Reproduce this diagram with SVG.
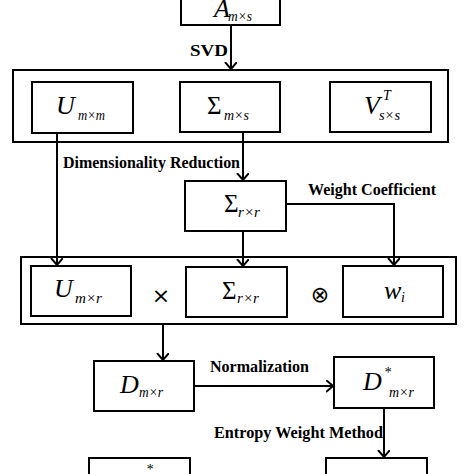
<svg xmlns="http://www.w3.org/2000/svg" width="474" height="474" viewBox="0 0 474 474">
<defs>
<style>
.box{fill:#fff;stroke:#000;stroke-width:2}
.frame{fill:none;stroke:#000;stroke-width:2}
.ln{fill:none;stroke:#000;stroke-width:2}
.m{font-family:"Liberation Serif",serif;font-style:italic;font-size:26px}
.g{font-family:"Liberation Serif",serif;font-style:normal;font-size:25px}
.s{font-family:"Liberation Serif",serif;font-style:italic;font-size:14px}
.lbl{font-family:"Liberation Serif",serif;font-weight:bold;font-size:16px}
.op{font-family:"DejaVu Sans",sans-serif;font-size:22px}
</style>
<marker id="ah" markerUnits="userSpaceOnUse" markerWidth="14" markerHeight="14" refX="7" refY="6" orient="auto" viewBox="0 0 14 14">
<path d="M0,0 L7,6 L0,12" fill="none" stroke="#000" stroke-width="2"/>
</marker>
</defs>
<rect width="474" height="474" fill="#fff"/>
<g id="connectors">
<line class="ln" x1="231" y1="25" x2="231" y2="69" marker-end="url(#ah)"/>
<line class="ln" x1="57" y1="133" x2="57" y2="265" marker-end="url(#ah)"/>
<line class="ln" x1="243" y1="132" x2="243" y2="180" marker-end="url(#ah)"/>
<line class="ln" x1="243" y1="231" x2="243" y2="266" marker-end="url(#ah)"/>
<polyline class="ln" points="286,204 394,204 394,265" marker-end="url(#ah)"/>
<line class="ln" x1="163" y1="324" x2="163" y2="360" marker-end="url(#ah)"/>
<line class="ln" x1="194" y1="386" x2="333" y2="386" marker-end="url(#ah)"/>
<line class="ln" x1="384" y1="408" x2="384" y2="457" marker-end="url(#ah)"/>
<text class="lbl" x="190" y="56" font-size="18" textLength="38" lengthAdjust="spacingAndGlyphs">SVD</text>
<text class="lbl" x="63" y="168" font-size="15" textLength="177" lengthAdjust="spacingAndGlyphs">Dimensionality Reduction</text>
<text class="lbl" x="308" y="195" textLength="128" lengthAdjust="spacingAndGlyphs">Weight Coefficient</text>
<text class="lbl" x="210" y="372" textLength="99" lengthAdjust="spacingAndGlyphs">Normalization</text>
<text class="lbl" x="214" y="438" textLength="169" lengthAdjust="spacingAndGlyphs">Entropy Weight Method</text>
</g>
<g id="node-A">
<rect class="box" x="181" y="-10" width="99" height="35"/>
<text class="m" x="214" y="17" font-size="20">A</text><text class="s" x="228" y="21" font-size="13" textLength="24" lengthAdjust="spacingAndGlyphs">m×s</text>
</g>
<g id="svd-frame">
<rect class="frame" x="13" y="70" width="435" height="72"/>
</g>
<g id="node-U">
<rect class="box" x="32" y="82" width="101" height="51"/>
<text class="m" x="56" y="114">U</text><text class="s" x="78" y="120" textLength="27" lengthAdjust="spacingAndGlyphs">m×m</text>
</g>
<g id="node-S">
<rect class="box" x="180" y="82" width="100" height="50"/>
<text class="g" x="207" y="114">Σ</text><text class="s" x="224" y="120" textLength="25" lengthAdjust="spacingAndGlyphs">m×s</text>
</g>
<g id="node-V">
<rect class="box" x="330" y="82" width="101" height="50"/>
<text class="m" x="364" y="114">V</text><text class="s" x="383" y="100">T</text><text class="s" x="379" y="120" textLength="21" lengthAdjust="spacingAndGlyphs">s×s</text>
</g>
<g id="node-Srr">
<rect class="box" x="185" y="181" width="101" height="50"/>
<text class="g" x="224" y="212" font-size="22">Σ</text><text class="s" x="238" y="217" textLength="22" lengthAdjust="spacingAndGlyphs">r×r</text>
</g>
<g id="product-frame">
<rect class="frame" x="21" y="257" width="435" height="67"/>
<text class="op" x="161" y="303" text-anchor="middle" font-family="Liberation Sans" font-size="30">×</text>
<text class="op" x="320" y="302" text-anchor="middle">⊗</text>
</g>
<g id="node-Umr">
<rect class="box" x="31" y="266" width="100" height="50"/>
<text class="m" x="54" y="297">U</text><text class="s" x="75" y="303" textLength="27" lengthAdjust="spacingAndGlyphs">m×r</text>
</g>
<g id="node-Srr2">
<rect class="box" x="186" y="267" width="101" height="50"/>
<text class="g" x="222" y="299" font-size="22">Σ</text><text class="s" x="237" y="303" textLength="22" lengthAdjust="spacingAndGlyphs">r×r</text>
</g>
<g id="node-w">
<rect class="box" x="343" y="266" width="100" height="51"/>
<text class="m" x="384" y="299">w</text><text class="s" x="401" y="302">i</text>
</g>
<g id="node-D">
<rect class="box" x="94" y="361" width="100" height="50"/>
<text class="m" x="120" y="393">D</text><text class="s" x="139" y="397" textLength="24" lengthAdjust="spacingAndGlyphs">m×r</text>
</g>
<g id="node-Dstar">
<rect class="box" x="334" y="357" width="100" height="51"/>
<text class="m" x="363" y="390">D</text><text class="s" x="384" y="377">*</text><text class="s" x="389" y="397" textLength="25" lengthAdjust="spacingAndGlyphs">m×r</text>
</g>
<g id="node-bottom-left">
<rect class="box" x="89" y="458" width="101" height="30"/>
<text class="m" x="128" y="491">D</text><text class="s" x="146" y="474">*</text>
</g>
<g id="node-bottom-right">
<rect class="box" x="326" y="458" width="101" height="30"/>
</g>
</svg>
